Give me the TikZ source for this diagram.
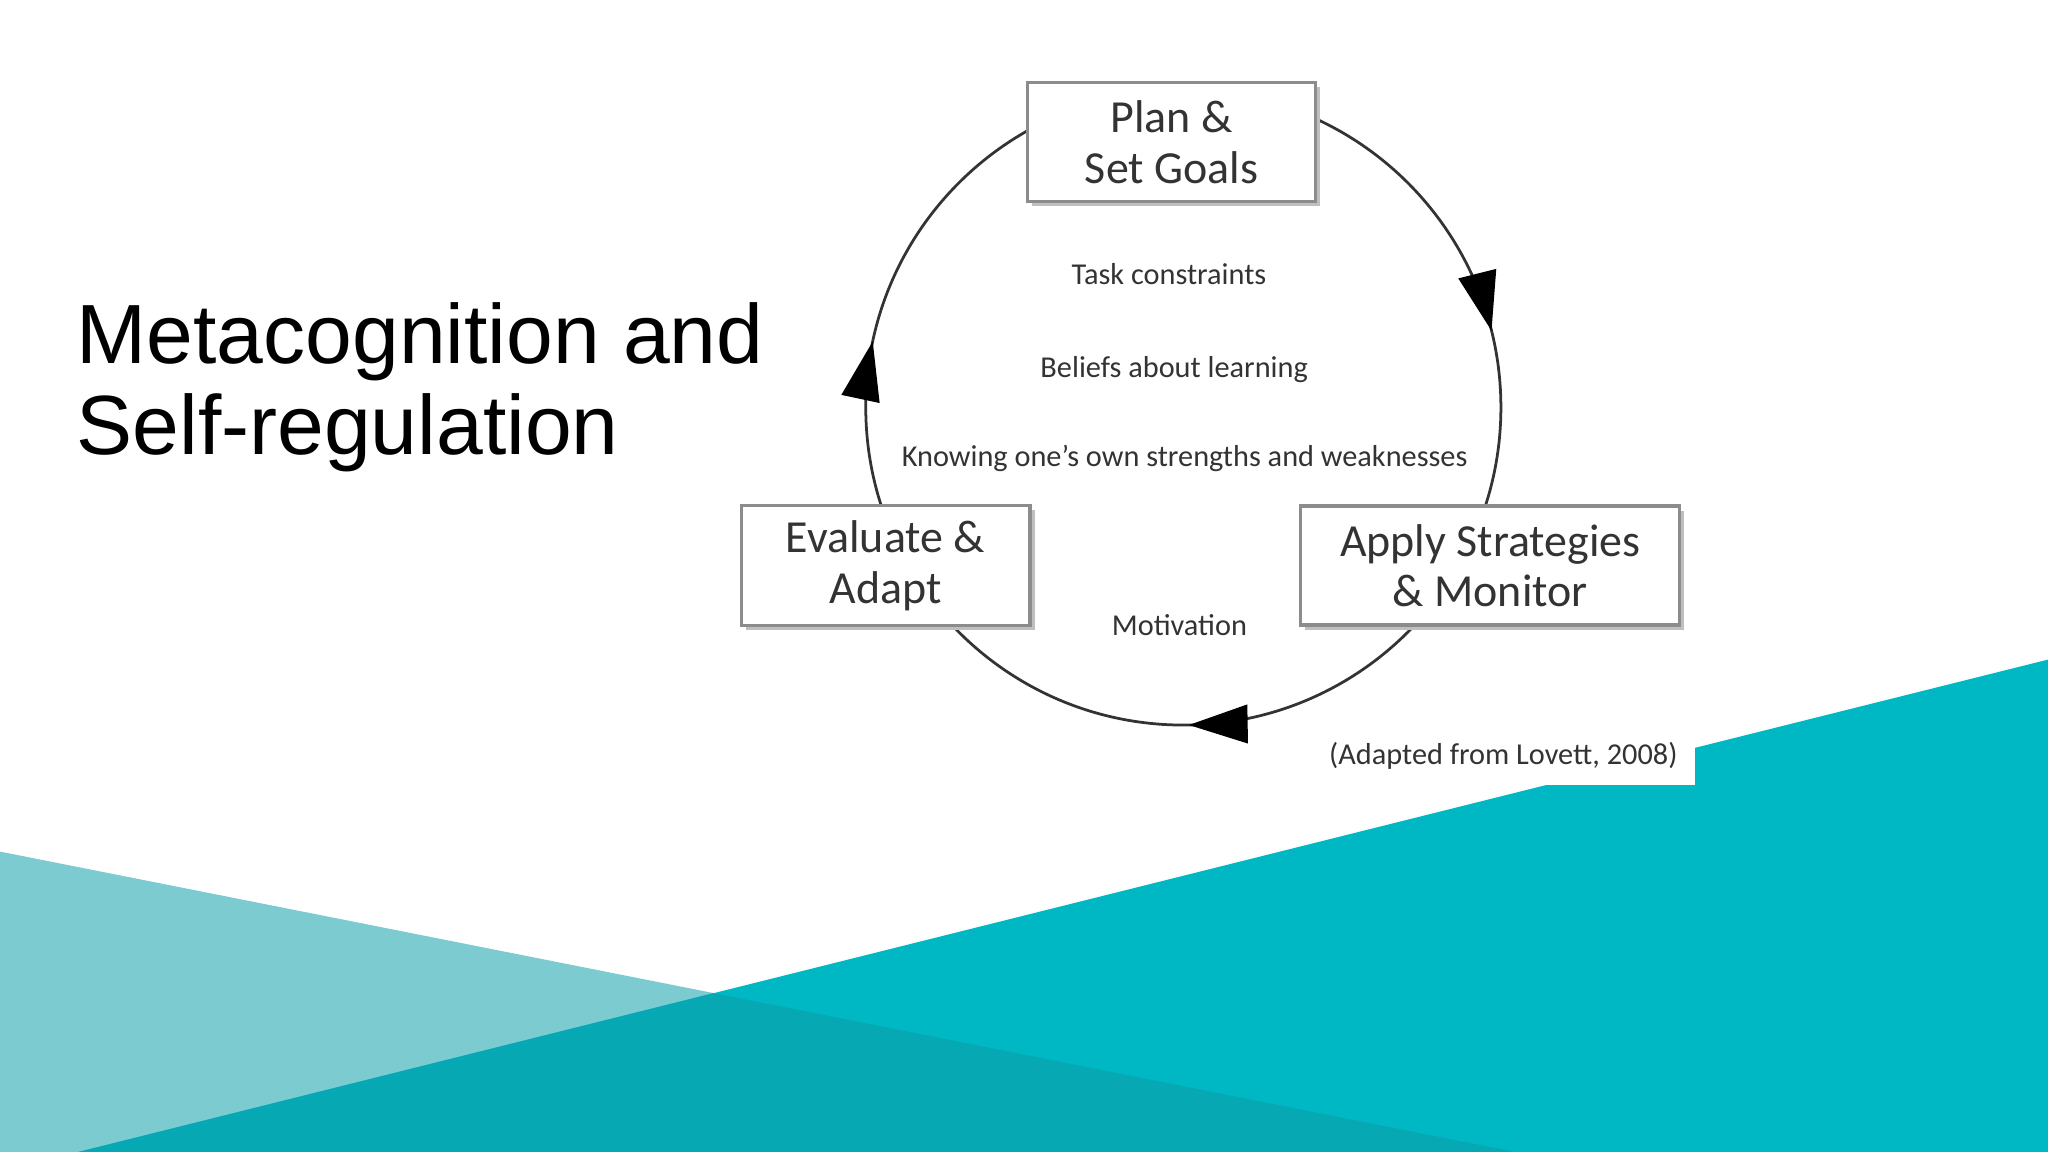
\documentclass[tikz,border=0pt]{standalone}
\usepackage{fontspec}
\usetikzlibrary{calc,shadows}
\setmainfont{Carlito}
\newfontfamily\titlefont{Liberation Sans}
\definecolor{lteal}{HTML}{7CCBD1}
\definecolor{dteal}{HTML}{00B8C3}
\definecolor{oteal}{HTML}{06A8B4}
\definecolor{txt}{HTML}{333333}
\begin{document}
\begin{tikzpicture}[x=0.01cm,y=0.01cm,
  stagebox/.style={draw=black!45,line width=0.7pt,fill=white,align=center,font=\fontsize{10}{11}\selectfont,text=txt,
    drop shadow={shadow xshift=1pt,shadow yshift=-1pt,fill=black!25,opacity=1}},
  inner/.style={font=\fontsize{6.6}{8}\selectfont,text=txt},
  tri/.style={fill=black}]
\useasboundingbox (0,0) rectangle (1568,882);
\fill[lteal] (0,230) -- (1160,0) -- (0,0) -- cycle;
\fill[dteal] (60,0) -- (1568,377) -- (1568,0) -- cycle;
\begin{scope}
\clip (0,230) -- (1160,0) -- (0,0) -- cycle;
\fill[oteal] (60,0) -- (1568,377) -- (1568,0) -- cycle;
\end{scope}
\node[anchor=base west,inner sep=0pt,font=\titlefont\fontsize{18.3}{20}\selectfont] (title) at (58,604) {Metacognition and};
\node[anchor=base west,inner sep=0pt,font=\titlefont\fontsize{18.3}{20}\selectfont] (title2) at (58,534) {Self-regulation};
\coordinate (c) at (906,570);
\draw[black!80,line width=0.6pt] (c) circle[radius=2.43cm];
% arrowheads
\foreach \a/\d in {14/-76,168/78,-89/181}{
  \fill[tri,shift={($(c)+(\a:2.43cm)$)},rotate=\d] (0,0) -- (-45,15) -- (-45,-15) -- cycle;
}
\node[stagebox,minimum width=2.2cm,minimum height=0.91cm] (plan) at (897,773) {Plan \&\\Set Goals};
\node[stagebox,minimum width=2.21cm,minimum height=0.9cm] (eval) at (678,449) {Evaluate \&\\Adapt};
\node[stagebox,minimum width=2.9cm,minimum height=0.91cm] (apply) at (1141,449) {Apply Strategies\\\& Monitor};
\node[inner] (t1) at (895,672) {Task constraints};
\node[inner] (t2) at (899,599) {Beliefs about learning};
\node[inner] (t3) at (907,531) {Knowing one’s own strengths and weaknesses};
\node[inner] (t4) at (903,403) {Motivation};
\node[fill=white,inner,minimum width=2.93cm,minimum height=0.38cm] (src) at (1151,303) {(Adapted from Lovett, 2008)};
\end{tikzpicture}
\end{document}
